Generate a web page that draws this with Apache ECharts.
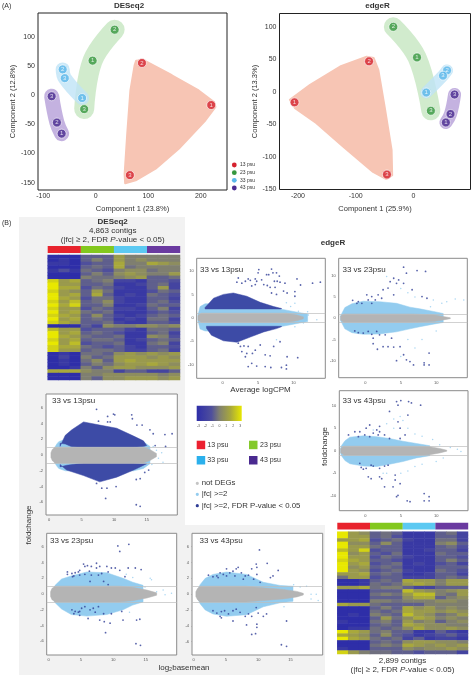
<!DOCTYPE html>
<html><head><meta charset="utf-8">
<style>html,body{margin:0;padding:0;background:#fff}#c{width:474px;height:679px;filter:blur(.4px)}</style>
<script src="https://cdn.jsdelivr.net/npm/echarts@6/dist/echarts.min.js"></script>
</head><body><div id="c"></div>
<script>
// ---------- PCA values [component 1, component 2, sample] ----------
const groups = ['13 psu','23 psu','33 psu','43 psu'];
const deseqPca13 = [[220,-17,1],[88,55,2],[65,-137,3]];
const deseqPca23 = [[-6,59,1],[36,112,2],[-22,-24,3]];
const deseqPca33 = [[-26,-5,1],[-63,44,2],[-59,29,3]];
const deseqPca43 = [[-65,-66,1],[-74,-47,2],[-84,-2,3]];
const edgerPca13 = [[-206,-16,1],[-77,47,2],[-46,-127,3]];
const edgerPca23 = [[6,53,1],[-35,100,2],[30,-29,3]];
const edgerPca33 = [[22,-1,1],[58,33,2],[51,25,3]];
const edgerPca43 = [[56,-47,1],[64,-34,2],[71,-4,3]];
const deseqHull13 = [[77,59],[91,60],[145,34],[196,8],[225,-12],[228,-20],[209,-43],[158,-92],[114,-126],[76,-146],[56,-151],[55,-135],[60,-66],[66,8],[74,51]];
const edgerHull13 = [[-214,-12],[-179,11],[-127,39],[-81,54],[-69,52],[-61,34],[-50,-23],[-38,-89],[-37,-128],[-47,-134],[-70,-123],[-122,-84],[-168,-48],[-205,-25]];
const deseqBand23 = [[36,112],[-6,59],[-22,-24]];
const deseqBand33 = [[-63,44],[-59,29],[-26,-5]];
const deseqBand43 = [[-84,-2],[-74,-47],[-65,-66]];
const edgerBand23 = [[-35,100],[6,53],[30,-29]];
const edgerBand33 = [[58,33],[51,25],[22,-1]];
const edgerBand43 = [[71,-4],[64,-34],[56,-47]];
const pca1XTicks=[-100,0,100,200], pca1YTicks=[-150,-100,-50,0,50,100];
const pca2XTicks=[-200,-100,0], pca2YTicks=[-150,-100,-50,0,50,100];

// ---------- MA envelopes read from the dense clouds: x, upper, lower ----------
const a = {
  grayX:[.3,.5,.9,14.5,15.5,16.5], grayUp:[.3,.7,1,1,.7,.2], grayLo:[-.3,-.7,-1,-1,-.7,-.2],
  lightX:[.9,1.2,1.5,2.5,5,13,14.5,15.5], lightUp:[1,1.4,1.7,2,2,2,1.7,1.1], lightLo:[-1,-1.4,-1.7,-2,-2,-2,-1.7,-1.1],
  topX:[1.7,2.5,3.5,5.3,7.8,10.4,13,14.5,15], topOut:[1.1,2.5,3.2,4.2,3.8,3.4,2.4,1.8,1.2], topIn:[1.5,1.4,1.05,1,1,1,1,1.1,1.2],
  botX:[1.7,2.7,5.3,7.8,10.4,13,14,15], botOut:[-1.2,-1.9,-2.6,-3.4,-2.8,-1.9,-1.5,-1.1], botIn:[-1.5,-1.3,-1,-1,-1,-1,-1.1,-1.1],
  dots:[[7.3,5.8],[9,4.9],[9.9,5.2],[10.1,5.1],[12.7,5.1],[12.8,4.6],[7.6,4.3],[9,4.2],[9.4,4.2],[13.5,3.8],[14.3,3.8],[15.5,3.2],[16,2.7],[17.8,2.6],[18.9,2.7],[17.9,1.1],[16.3,1.2],[8.1,-4.2],[8.9,-4.2],[10.3,-4],[7.3,-3.6],[13.4,-3.1],[14,-3],[14.7,-2.2],[15.3,-1.9],[8.7,-5.5],[13.4,-6.3],[14,-6.5]],
  pale:[[16.5,.6],[17.3,.3],[16.8,-.4],[17.5,-.9],[15.8,-1.2],[16,1.1]]
};
const b = {
  grayX:[.3,.5,1,11,13,15.2,16.7], grayUp:[.3,.7,1,1,.85,.5,.15], grayLo:[-.3,-.7,-1,-1,-.85,-.5,-.15],
  lightX:[.8,1,2,3.5,5.9,9,11.5,13,14.6], lightUp:[.8,1.1,1.9,2.3,2.8,2.7,2,1.5,1.1], lightLo:[-.8,-1.1,-1.9,-2.6,-2.8,-2.6,-2,-1.4,-1],
  dots:[[2.9,2.8],[2.9,2.5],[3.6,2.6],[3.9,2.3],[4.1,2.7],[3.7,2.2],[4.8,3],[5.4,3.8],[5.6,3.5],[6,3.6],[6.3,2.9],[6.6,3.5],[7.4,3.9],[7.4,3.3],[7.9,3.5],[8.2,2.6],[9,3.5],[9.2,2.8],[9.7,3.3],[10.3,3.3],[11,3],[11.8,2.2],[12.3,3.3],[13.4,3.3],[14.3,3.1],[8.5,1.6],[9.2,1.2],[6.4,1.6],[4.8,2.4],[6.6,2.4],[4.6,2.8],[5.6,2.5],[7.7,2.4],[10.7,6.1],[12.4,6.3],[11,5.4],[3.6,-2],[3.9,-2.5],[4.6,-2.3],[4.8,-2.7],[5.1,-1.8],[5.6,-1.6],[6.1,-3.1],[6.4,-2],[6.9,-1.8],[7.7,-1.6],[7.9,-3.3],[8.6,-3.5],[9.5,-3.7],[8.5,-2.5],[9.7,-2.5],[11.3,-2.2],[11.5,-3.3],[13.6,-3.3],[14.1,-3.2],[8.8,-4.9],[13.5,-6.3],[14.2,-6.5],[4.8,-2.2],[4.1,-2.2],[7.2,-2.3]],
  pale:[[15.7,2],[14.9,.9],[16.7,.3],[17.7,.5],[19,.1],[18,-.1],[15.9,1.8],[12,2.5],[13,2.1],[12.5,-2.3]]
};
const c = {
  grayX:[.35,.6,1,8.2,10.3,13.9,16,17], grayUp:[.3,.7,1,1,.85,.6,.35,.1], grayLo:[-.3,-.7,-1,-1,-.85,-.6,-.35,-.1],
  lightX:[.6,1,1.8,3,5.1,8.2,10.8,13.4,15.4], lightUp:[.5,1.2,2,2.5,2.8,2.5,1.5,1.1,1], lightLo:[-.5,-1.2,-2,-2.5,-2.8,-2.6,-1.6,-1.1,-.9],
  dots:[[2.3,2.4],[3,2.2],[3.6,2.3],[3.8,2.1],[4.1,2.7],[4.6,2.5],[5.1,3.2],[5.6,2.7],[6.1,2.9],[6.6,3.2],[6.9,3.4],[6.4,2.3],[7.4,2.7],[8,2.3],[8.5,2.4],[9,3.2],[9.8,3.4],[9.8,2.5],[10.3,1.5],[11.4,3.9],[13.1,3],[11.9,2.1],[12.3,2.3],[7.7,1.9],[5.1,2.3],[9.3,1.9],[10.2,5.6],[9.7,3.8],[3,-2.1],[3.6,-2.4],[4.1,-2.8],[4.3,-3],[4.8,-2.1],[5.4,-2.5],[6.1,-3.4],[6.6,-1.9],[7.2,-2.3],[8,-2.8],[8.5,-2.5],[9,-2.8],[9.7,-1.7],[10,-2.4],[10.8,-2.8],[11.3,-2.5],[14.4,-3.4],[9.8,-3.8],[8.2,-3.9],[9.8,-4.2],[9,-5.1],[9.6,-5],[13.6,-6.4],[14.4,-6.6],[6.1,-2.1],[4.3,-2.2]],
  pale:[[17.5,1],[18.2,0],[19,0],[19.3,-.8],[18.2,-.6],[16.5,.9],[15.5,1.2],[14,-1.6]]
};
const d = {
  grayX:[-3.5,-3.2,-3,9,10.5,11.4], grayUp:[.5,.8,1,1,.6,.2], grayLo:[-.5,-.8,-1,-1,-.6,-.2],
  lightX:[-3.5,-3.4,-3.2,-2.5,3,8.1,10.9,12], lightUp:[.8,1.2,2.4,3,3,1.9,1.1,.8], lightLo:[-.8,-1.2,-2.4,-2.8,-3,-1.9,-1.1,-.8],
  topX:[-2.5,-2,-1.3,.1,1.5,3.4,5.3,7.2,8.3], topOut:[2.2,3,4.2,5,5.3,4.6,3.3,2.4,2], topIn:[1.9,1.9,1.9,1.9,1.9,1.9,1.9,1.9,1.9],
  botX:[-2.3,-1.6,.1,2,3.9,5.8,7.6,8.3], botOut:[-2.2,-3.7,-4.9,-5.2,-4.1,-3,-2.3,-1.9], botIn:[-1.8,-1.8,-1.8,-1.8,-1.8,-1.8,-1.8,-1.8],
  dots:[[5.1,10.3],[5,9.6],[3.6,8.3],[3.9,8],[4.6,8.3],[4.8,7.8],[5.5,8.1],[2.2,8.5],[2,7.6],[2.7,7.4],[3.2,7.8],[6.2,9.2],[6.9,10.4],[7.1,9.6],[6.5,9.2],[7.6,9.6],[8,8.9],[7.3,7.8],[7.7,7.8],[8.1,7.6],[5.8,7.1],[6.3,6.9],[6.7,6.5],[7.4,6.5],[8.6,5.7],[9.1,5.3],[10.5,8.3],[11,7],[12.7,7.4],[13.8,7.6],[6.9,5.3],[7.6,5],[8.8,7.4],[10.2,5.6],[10.2,4.6],[4.6,7.1],[4.1,6.8],[2.2,-5.4],[2.5,-6.1],[3,-6],[3.6,-6.1],[2.7,-7.2],[3.2,-8.3],[4.1,-9.7],[3.6,-10.4],[4.8,-10.3],[6,-7.9],[6.7,-8.1],[6,-10.4],[6.8,-10.6],[8.3,-10.6],[9,-10.1],[9,-10.9],[9.1,-8.3],[10.6,-8.5],[8.1,-5.1],[7.2,-6.1],[5.3,-5.8],[4.2,-7.6],[3.4,-7.6],[4.6,-6.9]],
  pale:[[10.2,3.1],[10.7,1.4],[12.1,.6],[13.3,-.4],[11.4,-1.1],[10.2,-1.9],[7.6,-4.7],[9,3.2],[9.6,2.4],[12,1.3]]
};
const e = {
  grayX:[-3.5,-3.2,-3,6.7,9.6,11,12], grayUp:[.5,.8,1,1,.8,.4,.1], grayLo:[-.5,-.8,-1,-1,-.8,-.4,-.1],
  lightX:[-3.5,-3.3,-2.9,-1.9,-.3,2,4.4,6.3,7.7,9.6,11], lightUp:[.6,1.2,2.5,3.4,4,3.9,3.5,2.6,2.2,1.6,1.1], lightLo:[-.6,-1.2,-2.5,-3.4,-3.8,-3.7,-3.2,-2.5,-2,-1.4,-1],
  dots:[[-1.8,4.2],[-1.2,3.5],[-1,3.9],[-.5,3.5],[.2,5.5],[.4,4.3],[.9,5.1],[1.4,4.3],[1.8,5.5],[2.3,4.7],[.9,3.5],[4,5.5],[5.4,12],[5.8,10.6],[4.7,9],[4.4,8.2],[5.4,8.2],[7.3,11.2],[8.5,11],[8,5.1],[8.7,4.7],[6.6,6.7],[4,9.4],[3.5,8.6],[2.5,6.7],[3.2,7.1],[-1.5,-3],[-1,-3.4],[-.3,-3.5],[.4,-3.1],[.9,-3.8],[1.6,-3.1],[2,-3.9],[2.8,-3.9],[3.7,-4.7],[1.1,-6],[1.7,-7.3],[2.5,-6.7],[3.2,-6.7],[4,-6.8],[4.4,-10],[5.8,-9.8],[6.3,-10.2],[8.3,-10.5],[9,-8.2],[8.3,-11],[9,-11],[6.8,-11],[1.1,-4.7],[4.9,-6.7],[5.4,-8.6]],
  pale:[[12.7,4.5],[13.9,4.3],[11.5,3.9],[10.8,3.5],[9.2,2.7],[9.6,4.3],[3,9.8],[5,7],[6,6],[7,5],[8,-5],[7,-7],[5,-9],[10,-3],[6,-5]]
};
const f = {
  grayX:[-3.5,-3.2,-3,7.2,9.1,10.5,11.5], grayUp:[.5,.8,1,1,.9,.5,.1], grayLo:[-.5,-.8,-1,-1,-.9,-.5,-.1],
  lightX:[-3.5,-3.4,-2.9,-2.2,-.3,1.6,3.4,5.3,7.2,9.1], lightUp:[.6,1.1,2.2,3,3.3,3.1,2.7,2.1,1.6,1.1], lightLo:[-.6,-1.1,-2.2,-2.9,-3.4,-3.5,-3,-2.4,-1.6,-1.1],
  dots:[[-2.4,3.5],[-1.5,4.2],[-1,3.1],[-.8,4.2],[-.1,3.5],[.1,5],[.6,5.7],[.6,3.1],[1.1,3.9],[1.6,4.6],[1.8,3.5],[2,4.2],[2.7,3.5],[3.4,2.7],[4.6,10.1],[4.4,10.9],[5,11.1],[6.1,10.9],[6.5,10.6],[7.8,10.1],[3.4,8.7],[4.6,6.4],[4.9,5],[6,7.9],[5.6,3.5],[4.9,2.7],[2,5.4],[-.8,-2.8],[-.6,-3.7],[-.3,-4.1],[.1,-3.9],[.8,-3.2],[1.1,-3.4],[2,-3.9],[2.7,-3.4],[3.2,-3.2],[.4,-5.8],[.8,-6.2],[2,-5.8],[2.3,-6.2],[2.7,-8],[4.2,-5.4],[4.2,-6.5],[3.9,-8],[4.6,-9.9],[4.4,-10.2],[6.3,-11.3],[5.9,-11.1],[8.3,-9.5],[8.3,-11.1],[9,-10.2],[9,-11.1],[4.9,-7.3]],
  pale:[[1.1,4.6],[3,6],[4,7],[4.9,7.6],[5.3,6.7],[7,3.7],[8,3.2],[9.5,2.5],[10.5,1.3],[12,.7],[13,.3],[13.5,-.2],[11,-1.6],[8,-3],[6,-4.5],[5,-5],[7,-3.5],[3,-5],[10,-2.4],[4,5],[6,5],[2.5,-5]]
};

// ---------- heatmaps: rows top to bottom, columns 3 samples for each of the 4 salinities ----------
const heatLeft = [
[-3,-3,-3,-1,-1,-1,1,0,0,0,0,0],
[-3,-2.5,-3,-1,0,-1,1,0,.5,0,0,0],
[-2.5,-2.5,-3,-1.5,-1,-1,1.5,0,0,1.5,1,.5],
[-3,-3,-3,-1,-.5,-1,1.5,-.5,0,0,0,0],
[-2.5,-1.5,-2.5,-.5,-1,-1.5,0,.5,.5,-.5,0,0],
[-3,-3,-3,-1,0,-1,.5,1,.5,0,0,1],
[-3,-3,-3,0,-.5,-.5,0,.5,1,-1,-1,-.5],
[2.5,1,1.5,-1,-.5,0,-2,-2,-2.5,-1,-1,-1.5],
[3,1,1,-1,-1,-.5,-2.5,-2.5,-2,-1,-.5,-2],
[3,1.5,1.5,-1.5,-.5,-1,-2,-2.5,-2.5,-1,1,-2],
[2.5,1,.5,-1,1,-.5,-2.5,-2.5,-2.5,-1.5,-.5,-1],
[3,1,1.5,-1,1.5,-1,-2.5,-2,-2.5,-.5,-1,-1.5],
[3,1.5,1,-1.5,-.5,-.5,-2,-2.5,-2.5,-1,-1,-2],
[2.5,1,2,-1,-.5,.5,-2,-2.5,-2.5,-1,-.5,-1.5],
[3,1.5,2.5,-1,-1,0,-2.5,-2.5,-2,-.5,-1,-1],
[2.5,1,1,-1.5,-.5,-1,-2,-2,-2.5,-1,0,-2],
[3,1,1.5,-.5,-1,-.5,-2.5,-2.5,-2.5,-1.5,-1,-1.5],
[2.5,1.5,1,-1,.5,-1,-2,-2.5,-2,-1,-.5,-1],
[3,1,1.5,-1,-.5,-1,-2.5,-2,-2.5,-.5,-.5,-2],
[2.5,1.5,1,-1,-1,-.5,-2,-2.5,-2.5,-1,-1,-1.5],
[-3,-3,-3,-1,-2,.5,0,0,.5,.5,0,.5],
[2,1,1,-1.5,-1,-1,-1,-2,-2.5,-.5,-.5,-1],
[3,1,1.5,-1,-.5,-1,-1.5,-2.5,-2.5,-1,-.5,-2],
[3,1.5,1,-.5,-1,-1,-.5,-2.5,-2.5,.5,0,-1.5],
[2.5,1,1.5,-1,-.5,-.5,-1,-2.5,-2,-1,-.5,-1],
[3,1,2,-1.5,-1,-1,-.5,-2.5,-2.5,-.5,0,-2],
[2.5,1.5,1.5,-.5,-1,-1.5,-1,-2,-2.5,-1,-1,-1.5],
[2.5,1,1,-1,-.5,-.5,-1,-2,-2,-1,-.5,-2],
[-3,-2.5,-3,-.5,-.5,-1,.5,1,.5,1,.5,1],
[-3,-2,-3,0,-1,-.5,1,1,1,.5,1,.5],
[-3,-2.5,-3,-.5,.5,-1,1,1.5,1,1,1,1],
[-3,-2.5,-3,-1,0,-.5,.5,1,1,1.5,1,.5],
[-3,-3,-2.5,0,-1,.5,1,1,.5,.5,.5,1],
[1.5,1.5,1.5,.5,0,0,-2,-1,-1,-2,-2,-1],
[-3,-3,-3,0,0,.5,.5,.5,.5,.5,0,.5],
[-3,-3,-3,0,-1,.5,.5,1,1,1,.5,1]
];
const heatRight = [
[3,1,.5,-1,-.5,-1,-2.5,-2.5,-2.5,-1,-.5,-2],
[3,1,1,-1,-.5,-1.5,-2.5,-2.5,-2.5,-1,-1,-2],
[1,1,1.5,-1.5,-1,-.5,-2,-2.5,-2.5,-.5,-.5,-2],
[3,.5,.5,-1,.5,-1,-2.5,-2.5,-2.5,0,.5,-1],
[3,1,1,-.5,-1,-1,-2.5,-2.5,-2.5,-1,-.5,-1.5],
[2,1,2.5,-1.5,-1,-1,-2.5,-2.5,-2,-1,-1,-2],
[3,.5,1,-1,-1.5,-.5,-2.5,-2.5,-2.5,-.5,-1,-1],
[3,1,1,-1.5,-.5,-1,-2,-2.5,-2.5,-1,-1,-1.5],
[2.5,1.5,1,-1,-1,-1.5,-2.5,-2.5,-2.5,-1,0,-1],
[3,1,1.5,-1.5,-1,-.5,-2.5,-2,-2.5,-1.5,-1,-2],
[3,.5,1,-1,-.5,-1,-2.5,-2.5,-2.5,-1,-1,-1],
[3,1,.5,-1.5,-1,-.5,-2,-2.5,-2.5,-.5,-1,-1.5],
[1,1,1.5,-1,-.5,-1,-2.5,-2.5,-2,-1,-1,-2],
[-.5,1,1,-1.5,-1,-1,-2,-2,-2,-1,-.5,-1],
[-3,-3,-2.5,-1,-.5,-1,1.5,1,1,0,1,1],
[-3,-3,-2.5,-.5,-1,-.5,1,1.5,1,0,1,1],
[1,1,1.5,-.5,0,0,-1,-2,-2,-1,-1,-1],
[-3,-3,-3,-1,-1,-1,2,1,.5,0,.5,1],
[-3,-3,-3,-.5,0,-.5,1,2,2,0,-.5,1],
[-3,-3,-3,-1,-1,-1,.5,1.5,1.5,-1,0,.5],
[-3,-3,-3,0,0,-.5,0,0,0,.5,.5,0],
[1.5,1,1,-.5,-1,-1,-1,-1,0,0,0,0],
[-3,-3,-3,-1,0,-1,1.5,.5,1,0,.5,0],
[-3,-3,-3,-.5,-1,-.5,1.5,1,1,.5,1,.5],
[-3,-2.5,-3,0,-.5,-1,2,1,.5,-.5,0,1],
[-3,-3,-3,-1,1,-.5,.5,1.5,1,0,.5,0],
[-2.5,-3,-3,-.5,0,-1,1,0,.5,-1,0,.5],
[-3,-3,-3,-1,-.5,-1,1.5,1,.5,.5,0,0],
[-3,-2.5,-2.5,-.5,-1,-.5,.5,1.5,.5,.5,1,.5],
[3,1.5,1,-.5,0,-1,-1,-2.5,-2.5,-1,-2,-2.5],
[1.5,1,.5,-1,.5,-1,-1.5,-2.5,-2,-1.5,-1,-2],
[3,1.5,1,-.5,-1,-.5,-2,-1,-2.5,-2,-2,-2.5],
[-3,-3,-3,-1,-.5,-1,.5,1,1,.5,.5,0],
[-3,-3,-3,-.5,0,-.5,1.5,1,.5,1,.5,1],
[-2.5,-3,-3,-1,-1,-1,.5,0,.5,.5,1,.5],
[2.5,1,0,-.5,-.5,-1,-1,-1.5,-1,-1,-1,-2]
];
const heatScaleLabels=['-3','-2','-1','0','1','2','3'];

// ---------- colours ----------
const cRed='#d5232f',cGreen='#36973f',cBlue='#5ab7ea',cPurple='#4a2a90';
const mDark='#3d4ba6',mLight='#93ccef',mGray='#b4b4b4';
const FONT='"Liberation Sans",Arial,sans-serif';

const grids=[],xAxes=[],yAxes=[],series=[];
function addGrid(box,xr,yr,xt,yt,opt){
  const i=grids.length; opt=opt||{};
  grids.push({left:box[0],top:box[1],width:box[2]-box[0],height:box[3]-box[1],show:true,backgroundColor:'#fff',
    borderColor:opt.border||'#8a8a8a',borderWidth:opt.bw||1,z:1});
  const fs=opt.fs||4, col=opt.col||'#555';
  const axis=(r,t,extra)=>Object.assign({type:'value',gridIndex:i,min:r[0],max:r[1],scale:true,splitLine:{show:false},
    axisLine:{show:false},axisTick:{show:true,length:opt.tl||2,lineStyle:{color:col,width:.6},customValues:t},
    axisLabel:{fontSize:fs,color:col,margin:opt.lm||3,fontFamily:FONT,customValues:t,hideOverlap:false}},extra||{});
  xAxes.push(axis(xr,xt,opt.x));yAxes.push(axis(yr,yt,opt.y));
  return i;
}
function band(g,xs,up,lo,color,z){
  const pts=xs.map((x,i)=>[x,up[i],lo[i]]);
  series.push({type:'custom',xAxisIndex:g,yAxisIndex:g,silent:true,z:z||2,clip:true,data:[pts[0]],
    encode:{x:0,y:1},
    renderItem:(p,api)=>{
      const top=pts.map(r=>api.coord([r[0],r[1]]));
      const bot=pts.slice().reverse().map(r=>api.coord([r[0],r[2]]));
      return {type:'polygon',shape:{points:top.concat(bot)},style:{fill:color,stroke:color,lineWidth:.5,lineJoin:'round'},silent:true};
    }});
}
function maPlot(box,xr,yr,xt,yt,d0){
  const g=addGrid(box,xr,yr,xt,yt,{});
  band(g,d0.lightX,d0.lightUp,d0.lightLo,mLight,2);
  if(d0.topX){band(g,d0.topX,d0.topOut,d0.topIn,mDark,3);band(g,d0.botX,d0.botIn,d0.botOut,mDark,3);}
  band(g,d0.grayX,d0.grayUp,d0.grayLo,mGray,4);
  series.push({type:'scatter',xAxisIndex:g,yAxisIndex:g,silent:true,z:5,symbolSize:1.5,itemStyle:{color:mLight},data:d0.pale,
    markLine:{silent:true,symbol:'none',label:{show:false},lineStyle:{color:'#bdbdbd',width:.7,type:'solid'},data:[{yAxis:1},{yAxis:-1}],animation:false,z:6}});
  series.push({type:'scatter',xAxisIndex:g,yAxisIndex:g,silent:true,z:6,symbolSize:1.8,itemStyle:{color:'#303d96'},data:d0.dots});
}
function pcaPlot(box,xr,yr,xt,yt,pts,hull,bands,xName,yName,widths){
  const g=addGrid(box,xr,yr,xt,yt,{border:'#222',fs:7,col:'#333',tl:3,lm:3,
    x:{name:xName,nameLocation:'middle',nameGap:15,nameTextStyle:{fontSize:7.5,color:'#333',fontFamily:FONT}},
    y:{name:yName,nameLocation:'middle',nameGap:box[0]<100?19:16,nameTextStyle:{fontSize:7.5,color:'#333',fontFamily:FONT}}});
  series.push({type:'custom',xAxisIndex:g,yAxisIndex:g,silent:true,z:2,data:[hull[0]],encode:{x:0,y:1},
    renderItem:(p,api)=>({type:'polygon',shape:{points:hull.map(v=>api.coord(v))},
      style:{fill:'#f7c5b4',stroke:'#f7c5b4',lineWidth:2,lineJoin:'round'},silent:true})});
  const bandCols=['#c6e6c0','#bfe3f6','#b59fd8'];
  bands.forEach((bd,i)=>series.push({type:'line',xAxisIndex:g,yAxisIndex:g,silent:true,z:3+i*.1,data:bd,smooth:.4,showSymbol:false,symbol:'none',
    lineStyle:{color:bandCols[i],width:widths[i],cap:'round',join:'round',opacity:.8}}));
  [cRed,cGreen,cBlue,cPurple].forEach((col,i)=>series.push({type:'scatter',xAxisIndex:g,yAxisIndex:g,silent:true,z:6,name:groups[i],
    symbolSize:9,itemStyle:{color:col,borderColor:'#fff',borderWidth:.8},data:pts[i],
    label:{show:true,position:'inside',fontSize:6,color:'#fff',fontFamily:FONT,formatter:p=>p.value[2]}}));
}
function heat(box,rows){
  const i=grids.length, nr=rows.length;
  grids.push({left:box[0],top:box[1],width:box[2]-box[0],height:box[3]-box[1],z:2});
  const cats=n=>Array.from({length:n},(_,k)=>k);
  xAxes.push({type:'category',gridIndex:i,data:cats(12),show:false});
  yAxes.push({type:'category',gridIndex:i,data:cats(nr),inverse:true,show:false});
  const data=[];rows.forEach((r,y)=>r.forEach((v,x)=>data.push([x,y,v])));
  series.push({type:'heatmap',xAxisIndex:i,yAxisIndex:i,data,silent:true,z:3,itemStyle:{borderWidth:0},progressive:0});
  return series.length-1;
}

pcaPlot([38,13,227,190],[-110,250],[-162.5,140.6],pca1XTicks,pca1YTicks,
  [deseqPca13,deseqPca23,deseqPca33,deseqPca43],deseqHull13,[deseqBand23,deseqBand33,deseqBand43],'Component 1 (23.8%)','Component 2 (12.8%)',[20,14,15]);
pcaPlot([279.5,13.5,470.5,189.5],[-232,98.6],[-150,120.5],pca2XTicks,pca2YTicks,
  [edgerPca13,edgerPca23,edgerPca33,edgerPca43],edgerHull13,[edgerBand23,edgerBand33,edgerBand43],'Component 1 (25.9%)','Component 2 (13.3%)',[19,12,13]);

const maT5=[0,5,10,15], y6=[-6,-4,-2,0,2,4,6], t5=[0,5,10], y10=[-10,-5,0,5,10];
maPlot([46,394,177.3,515],[-.46,19.7],[-7.6,7.74],maT5,y6,a);
maPlot([46.7,533.3,176.7,655],[-.3,19.8],[-7.73,7.7],maT5,y6,b);
maPlot([192,533.3,322.7,655],[-.25,20],[-7.7,7.7],maT5,y6,c);
maPlot([196.7,258.3,325.3,378.3],[-3.68,14.5],[-12.9,12.7],t5,y10,d);
maPlot([338.7,258.3,467.3,377.7],[-3.77,14.4],[-14,14.1],t5,y10,e);
maPlot([339.3,390.7,468,510.7],[-3.7,14.5],[-13.3,13.3],t5,y10,f);

const hl=heat([47.7,255,180,380],heatLeft);
const hr=heat([337.3,531.7,468,654],heatRight);

// ---------- annotations ----------
const T=(x,y,text,o)=>({type:'text',x,y,z:20,rotation:(o&&o.rot)||0,silent:true,style:Object.assign({text,fill:'#333',font:(o&&o.font)||('8px '+FONT),
  align:(o&&o.align)||'left',verticalAlign:'middle'},(o&&o.style)||{})});
const R=(x,y,w,h,fill,z)=>({type:'rect',z:z||20,silent:true,shape:{x,y,width:w,height:h},style:{fill}});
const Dot=(x,y,r,fill)=>({type:'circle',z:20,silent:true,shape:{cx:x,cy:y,r},style:{fill}});
const boldF='bold 8px '+FONT;
const g=[
  R(19,217,166,310,'#f2f2f2',-10),R(19,525,306,150,'#f2f2f2',-10),
  T(2,6,'(A)',{font:'7px '+FONT}),T(2,223,'(B)',{font:'7px '+FONT}),
  T(129,6,'DESeq2',{font:boldF,align:'center'}),T(377.5,6,'edgeR',{font:boldF,align:'center'}),
  T(112.7,222,'DESeq2',{font:boldF,align:'center'}),T(112.7,231,'4,863 contigs',{align:'center'}),
  T(112.7,240,'(|fc| ≥ 2, FDR {i|P}-value < 0.05)',{align:'center',style:{rich:{i:{font:'italic 8px '+FONT,fill:'#333'}}}}),
  T(333,243,'edgeR',{font:boldF,align:'center'}),
  T(260.5,390,'Average logCPM',{align:'center',font:'8px '+FONT}),
  T(184,668,'log₂basemean',{align:'center',font:'8px '+FONT}),
  T(28.5,525,'foldchange',{rot:Math.PI/2,align:'center',font:'8px '+FONT}),
  T(324.5,446.5,'foldchange',{rot:Math.PI/2,align:'center',font:'8px '+FONT}),
  T(402.5,661,'2,899 contigs',{align:'center'}),
  T(402.5,670,'(|fc| ≥ 2, FDR {i|P}-value < 0.05)',{align:'center',style:{rich:{i:{font:'italic 8px '+FONT,fill:'#333'}}}}),
];
// panel titles
[[52,401,'33 vs 13psu'],[50,541,'33 vs 23psu'],[199.5,541,'33 vs 43psu'],[200,270,'33 vs 13psu'],[342.5,270,'33 vs 23psu'],[342.5,401,'33 vs 43psu']]
  .forEach(t=>g.push(T(t[0],t[1],t[2],{font:'8px '+FONT})));
// PCA legend
[cRed,cGreen,cBlue,cPurple].forEach((col,i)=>{const y=165+7.66*i;g.push(Dot(234.3,y,2.4,col));g.push(T(240,y,groups[i],{font:'5px '+FONT}));});
// group strips over the heatmaps
const strip=['#e8232d','#83c81e','#5cc9f2','#6a3aa0'];
strip.forEach((col,i)=>{
  g.push(R(47.7+33.1*i,246,33.2,7,col));
  g.push(R(337.3+32.7*i,522.8,32.8,6.6,col));
});
// colour bar
g.push({type:'rect',z:20,silent:true,shape:{x:196.7,y:405.7,width:45,height:15.3},style:{fill:new echarts.graphic.LinearGradient(0,0,1,0,[
  {offset:0,color:'#2e2ea8'},{offset:.33,color:'#4f4f9c'},{offset:.5,color:'#7f7f70'},{offset:.75,color:'#a8a83c'},{offset:1,color:'#e8e800'}])}});
heatScaleLabels.forEach((l,i)=>g.push(T(198.5+i*6.95,426.5,l,{font:'3.5px '+FONT,align:'center',style:{fill:'#555'}})));
// salinity squares
[[196.7,440.7,'#ec2030',207.3,'13 psu'],[249,440.7,'#84c92b',260,'23 psu'],[196.7,456,'#2bb0ec',207.3,'33 psu'],[249,456,'#4a2a90',260,'43 psu']]
 .forEach(s=>{g.push(R(s[0],s[1],8.5,8.5,s[2]));g.push(T(s[3],s[1]+4.5,s[4],{font:'7px '+FONT}));});
// MA legend
[[483.3,'#c4c4c4','not DEGs'],[494.3,mLight,'|fc| >=2'],[505.7,'#2f3d96','|fc| >=2, FDR P-value < 0.05']]
 .forEach(s=>{g.push(Dot(197.3,s[0],1.6,s[1]));g.push(T(201.7,s[0],s[2],{font:'7.8px '+FONT}));});

const chart=echarts.init(document.getElementById('c'),null,{renderer:'canvas',width:474,height:679});
chart.setOption({animation:false,backgroundColor:'#fff',tooltip:{show:false},
  grid:grids,xAxis:xAxes,yAxis:yAxes,series,graphic:g,
  visualMap:{show:false,type:'continuous',min:-3,max:3,seriesIndex:[hl,hr],
    inRange:{color:['#2e2ea8','#4f4f9c','#7f7f70','#a8a83c','#e8e800']}}});
</script></body></html>
